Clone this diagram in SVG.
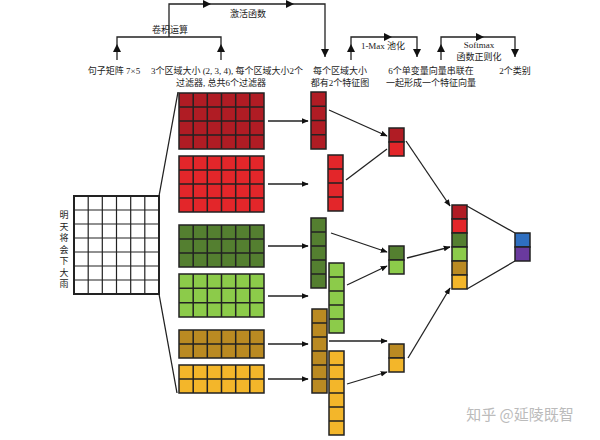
<svg xmlns="http://www.w3.org/2000/svg" width="600" height="440" viewBox="0 0 600 440">
<defs>
<marker id="ah" viewBox="0 0 10 10" refX="9" refY="5" markerWidth="7" markerHeight="7" orient="auto" markerUnits="userSpaceOnUse"><path d="M0,1 L10,5 L0,9 z" fill="#111"/></marker>
</defs>
<style>
text{font-family:"Liberation Serif","Noto Sans CJK SC",serif;font-size:9px;fill:#222}
.m{stroke:#222;stroke-width:1.2}
.ln{stroke:#222;stroke-width:1.3;fill:none}
</style>
<rect width="600" height="440" fill="#fff"/>
<g id="annotations">
<path class="ln" d="M117,60 V37 H221 V60"/>
<path d="M113,52 L117,44 L121,52 z M217,52 L221,44 L225,52 z" fill="#111"/>
<text x="170" y="33" text-anchor="middle">卷积运算</text>
<path class="ln" d="M169,37 V4 H325 V57"/>
<path d="M203,0 L211,4 L203,8 z M286,0 L294,4 L286,8 z M321,49 L325,57 L329,49 z" fill="#111"/>
<text x="248" y="17" text-anchor="middle">激活函数</text>
<path class="ln" d="M351,60 V37 H417 V57"/>
<path d="M347,52 L351,44 L355,52 z M384,33 L392,37 L384,41 z M413,49 L417,57 L421,49 z" fill="#111"/>
<text x="383" y="49" text-anchor="middle">1-Max 池化</text>
<path class="ln" d="M441,60 V37 H515 V57"/>
<path d="M437,52 L441,44 L445,52 z M476,33 L484,37 L476,41 z M511,49 L515,57 L519,49 z" fill="#111"/>
<text x="479" y="48" text-anchor="middle">Softmax</text>
<text x="479" y="60" text-anchor="middle">函数正则化</text>
<text x="114" y="74" text-anchor="middle">句子矩阵 7×5</text>
<text x="227" y="74" text-anchor="middle">3个区域大小 (2, 3, 4), 每个区域大小2个</text>
<text x="221" y="86" text-anchor="middle">过滤器, 总共6个过滤器</text>
<text x="340" y="74" text-anchor="middle">每个区域大小</text>
<text x="340" y="86" text-anchor="middle">都有2个特征图</text>
<text x="431" y="74" text-anchor="middle">6个单变量向量串联在</text>
<text x="431" y="86" text-anchor="middle">一起形成一个特征向量</text>
<text x="515" y="74" text-anchor="middle">2个类别</text>
</g>
<g id="input">
<rect x="74" y="196" width="85" height="98" fill="#fff" stroke="#222" stroke-width="2"/>
<path class="m" stroke-width="1.5" d="M88.2,196V294M102.3,196V294M116.5,196V294M130.7,196V294M144.8,196V294M74,210H159M74,224H159M74,238H159M74,252H159M74,266H159M74,280H159"/>
<text x="64" y="218" text-anchor="middle">明</text>
<text x="64" y="229.5" text-anchor="middle">天</text>
<text x="64" y="241" text-anchor="middle">将</text>
<text x="64" y="252.5" text-anchor="middle">会</text>
<text x="64" y="264" text-anchor="middle">下</text>
<text x="64" y="275.5" text-anchor="middle">大</text>
<text x="64" y="287" text-anchor="middle">雨</text>
</g>
<g id="maps" stroke="#222" stroke-width="1.5">
<g id="fm1" fill="#b01c24"><path d="M179,93h85v56h-85z M193.2,93v56M207.3,93v56M221.5,93v56M235.7,93v56M249.8,93v56M179,107h85M179,121h85M179,135h85"/></g>
<g id="fm2" fill="#e3262a"><path d="M179,156h85v56h-85z M193.2,156v56M207.3,156v56M221.5,156v56M235.7,156v56M249.8,156v56M179,170h85M179,184h85M179,198h85"/></g>
<g id="fm3" fill="#547f30"><path d="M179,225h85v42h-85z M193.2,225v42M207.3,225v42M221.5,225v42M235.7,225v42M249.8,225v42M179,239h85M179,253h85"/></g>
<g id="fm4" fill="#8ccb4a"><path d="M179,274h85v43h-85z M193.2,274v43M207.3,274v43M221.5,274v43M235.7,274v43M249.8,274v43M179,288.3h85M179,302.7h85"/></g>
<g id="fm5" fill="#ba8a22"><path d="M179,330h85v28h-85z M193.2,330v28M207.3,330v28M221.5,330v28M235.7,330v28M249.8,330v28M179,344h85"/></g>
<g id="fm6" fill="#f3b62a"><path d="M179,365h85v28h-85z M193.2,365v28M207.3,365v28M221.5,365v28M235.7,365v28M249.8,365v28M179,379h85"/></g>
<g id="v1" fill="#b01c24"><path d="M311,92h15v57h-15z M311,106.25h15M311,120.5h15M311,134.75h15"/></g>
<g id="v2" fill="#e3262a"><path d="M328,155h15v56h-15z M328,169h15M328,183h15M328,197h15"/></g>
<g id="v3" fill="#547f30"><path d="M311,218h15v70h-15z M311,232h15M311,246h15M311,260h15M311,274h15"/></g>
<g id="v4" fill="#8ccb4a"><path d="M329,263h15v70h-15z M329,277h15M329,291h15M329,305h15M329,319h15"/></g>
<g id="v5" fill="#ba8a22"><path d="M312,309h15v84h-15z M312,323h15M312,337h15M312,351h15M312,365h15M312,379h15"/></g>
<g id="v6" fill="#f3b62a"><path d="M329,351h15v84h-15z M329,365h15M329,379h15M329,393h15M329,407h15M329,421h15"/></g>
<g id="p1"><rect x="389" y="128" width="15" height="14" fill="#b01c24"/><rect x="389" y="142" width="15" height="14" fill="#e3262a"/></g>
<g id="p2"><rect x="389" y="246" width="15" height="14" fill="#547f30"/><rect x="389" y="260" width="15" height="14" fill="#8ccb4a"/></g>
<g id="p3"><rect x="389" y="344" width="15" height="14" fill="#ba8a22"/><rect x="389" y="358" width="15" height="14" fill="#f3b62a"/></g>
<g id="concat"><rect x="452" y="205" width="15" height="14" fill="#b01c24"/><rect x="452" y="219" width="15" height="14" fill="#e3262a"/><rect x="452" y="233" width="15" height="14" fill="#547f30"/><rect x="452" y="247" width="15" height="14" fill="#8ccb4a"/><rect x="452" y="261" width="15" height="14" fill="#ba8a22"/><rect x="452" y="275" width="15" height="14" fill="#f3b62a"/></g>
<g id="output"><rect x="515" y="233" width="15" height="14" fill="#2f6fc0"/><rect x="515" y="247" width="15" height="14" fill="#6a3a9e"/></g>
</g>
<g id="connectors" class="ln">
<path d="M159,196 L178,92 M159,294 L177,393"/>
<path marker-end="url(#ah)" d="M268,121H308"/>
<path marker-end="url(#ah)" d="M268,184H308"/>
<path marker-end="url(#ah)" d="M268,246H308"/>
<path marker-end="url(#ah)" d="M268,296H308"/>
<path marker-end="url(#ah)" d="M268,344H308"/>
<path marker-end="url(#ah)" d="M268,379H308"/>
<path marker-end="url(#ah)" d="M329,110L387,136"/>
<path d="M346,180L387,149"/>
<path marker-end="url(#ah)" d="M331,233L387,252"/>
<path marker-end="url(#ah)" d="M347,285L387,266"/>
<path marker-end="url(#ah)" d="M329,341H387"/>
<path marker-end="url(#ah)" d="M347,384L387,372"/>
<path marker-end="url(#ah)" d="M406,141L450,206"/>
<path marker-end="url(#ah)" d="M407,258L450,247"/>
<path marker-end="url(#ah)" d="M408,358L450,288"/>
<path d="M467,206L515,233M467,289L515,261"/>
</g>
<text x="520" y="420" text-anchor="middle" style="font-family:'Noto Sans CJK SC',sans-serif;font-size:15px;fill:#bbb">知乎 @延陵既智</text>
</svg>
